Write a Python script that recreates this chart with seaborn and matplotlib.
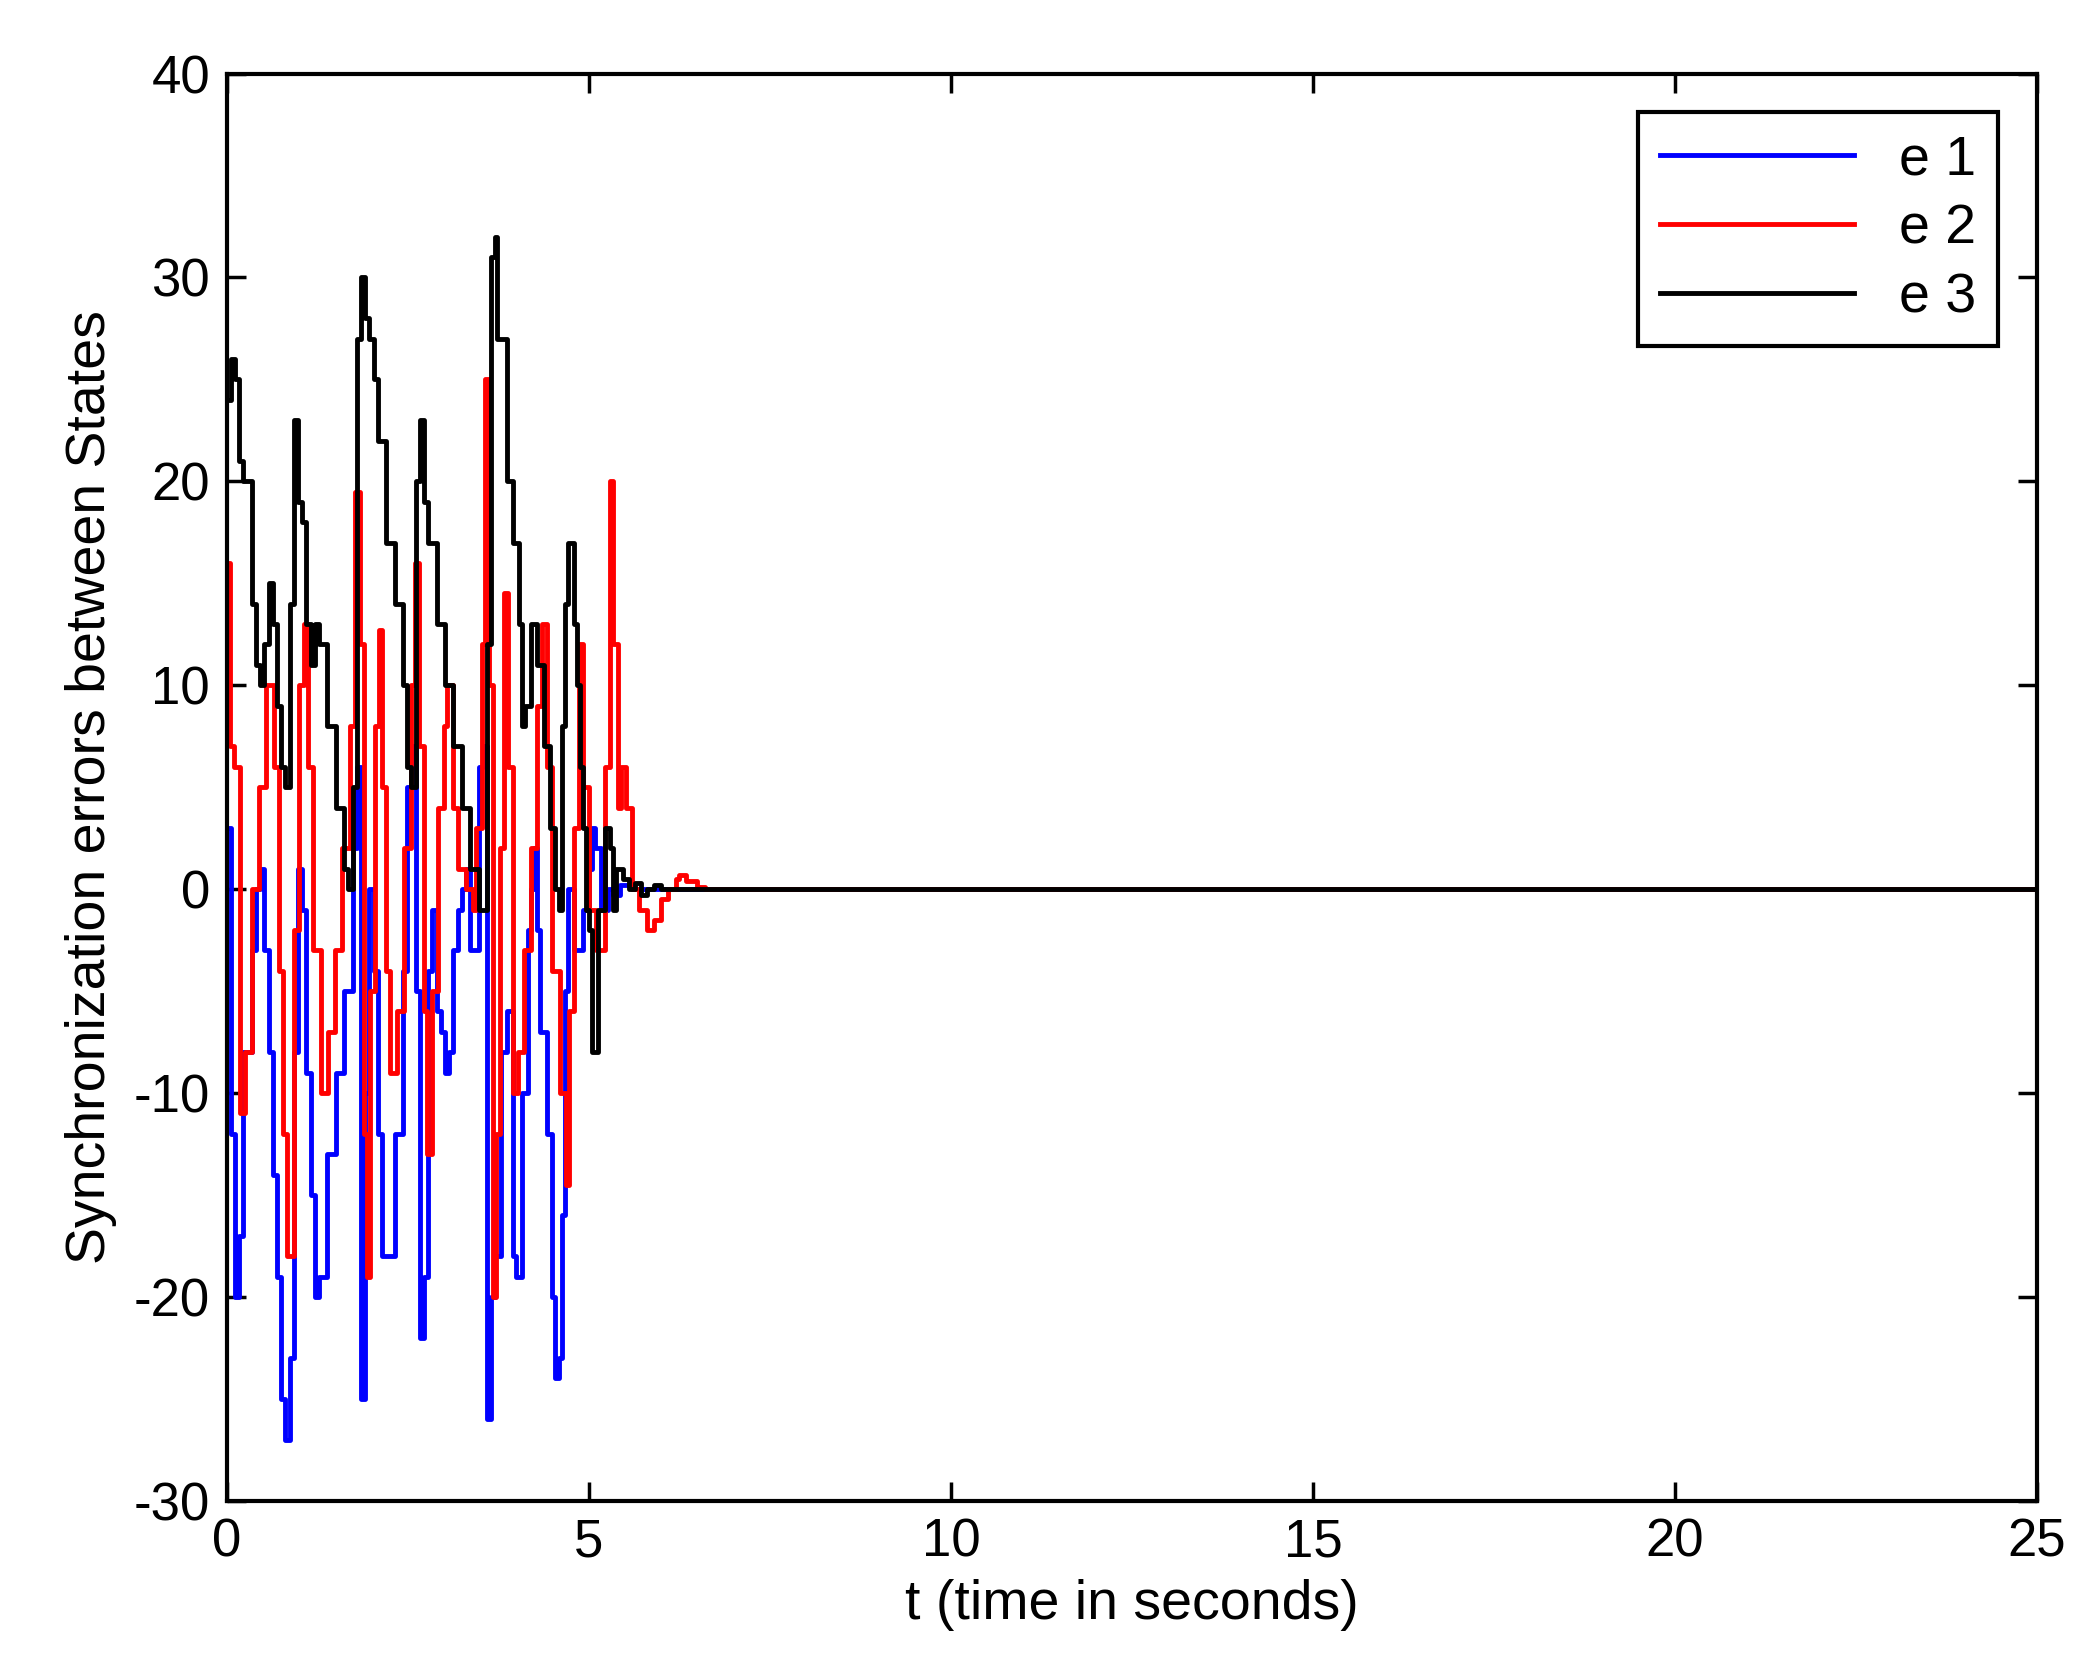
import matplotlib
matplotlib.use("Agg")
import matplotlib.pyplot as plt
import seaborn as sns
import pandas as pd

t_e1 = [0, .06, .12, .17, .23, .35, .41, .46, .52, .58, .64, .70, .75, .81, .87, .93, .99, 1.04, 1.10, 1.16, 1.22, 1.28, 1.39, 1.51, 1.62, 1.74, 1.80, 1.86, 1.91, 1.97, 2.03, 2.09, 2.15, 2.20, 2.32, 2.44, 2.49, 2.55, 2.61, 2.67, 2.73, 2.78, 2.84, 2.90, 2.96, 3.02, 3.07, 3.13, 3.19, 3.25, 3.31, 3.36, 3.48, 3.54, 3.60, 3.65, 3.70, 3.79, 3.87, 3.95, 4.0, 4.08, 4.16, 4.21, 4.25, 4.29, 4.33, 4.42, 4.50, 4.54, 4.59, 4.63, 4.67, 4.71, 4.75, 4.80, 4.84, 4.92, 5.0, 5.05, 5.09, 5.17, 5.26, 5.34, 5.43, 5.6, 25]
e1 = [3, -12, -20, -17, -8, -3, 0, 1, -3, -8, -14, -19, -25, -27, -23, -8, 1, -1, -9, -15, -20, -19, -13, -9, -5, 2, 6, -25, -10, 0, -4, -12, -18, -18, -12, -4, 5, 7, -5, -22, -19, -4, -1, -6, -7, -9, -8, -3, -1, 0, 1, -3, 6, 7, -26, -20, -18, -8, -6, -18, -19, -10, -2, 0, 2, -2, -7, -12, -20, -24, -23, -16, -5, 0, 0, -3, -3, -1, 1, 3, 2, -1, 0, -0.3, 0.2, 0, 0]

t_e2 = [0, .05, .1, .18, .25, .35, .45, .55, .65, .72, .78, .83, .88, .93, 1.0, 1.07, 1.12, 1.2, 1.3, 1.4, 1.5, 1.6, 1.7, 1.78, 1.84, 1.9, 1.94, 1.98, 2.05, 2.1, 2.15, 2.2, 2.25, 2.35, 2.45, 2.55, 2.6, 2.66, 2.72, 2.77, 2.83, 2.92, 3.0, 3.05, 3.12, 3.2, 3.3, 3.4, 3.45, 3.52, 3.57, 3.62, 3.68, 3.72, 3.78, 3.83, 3.88, 3.95, 4.02, 4.1, 4.2, 4.28, 4.35, 4.42, 4.5, 4.6, 4.68, 4.73, 4.8, 4.86, 4.92, 5.0, 5.1, 5.18, 5.22, 5.29, 5.34, 5.4, 5.45, 5.52, 5.6, 5.7, 5.8, 5.9, 6.0, 6.1, 6.2, 6.25, 6.35, 6.5, 6.6, 25]
e2 = [16, 7, 6, -11, -8, 0, 5, 10, 6, -4, -12, -18, -18, -2, 10, 13, 6, -3, -10, -7, -3, 2, 8, 19.5, 12, -12, -19, -5, 8, 12.7, 5, -4, -9, -6, 2, 10, 16, 7, -6, -13, -5, 4, 8, 10, 4, 1, 0, -1, 3, 12, 25, 10, -20, -12, 2, 14.5, 6, -10, -8, -3, 2, 9, 13, 6, -4, -10, -14.5, -6, 3, 12, 5, -1, -3, -3, 6, 20, 12, 4, 6, 4, 0, -1, -2, -1.5, -0.5, 0, 0.5, 0.7, 0.4, 0.1, 0, 0]

t_e3 = [0, .06, .12, .17, .23, .35, .41, .46, .52, .58, .64, .70, .75, .81, .87, .93, .99, 1.04, 1.10, 1.16, 1.22, 1.28, 1.39, 1.51, 1.62, 1.68, 1.74, 1.80, 1.86, 1.91, 1.97, 2.03, 2.09, 2.20, 2.32, 2.44, 2.49, 2.55, 2.61, 2.67, 2.73, 2.78, 2.90, 2.96, 3.02, 3.13, 3.25, 3.36, 3.48, 3.54, 3.60, 3.65, 3.70, 3.74, 3.79, 3.87, 3.95, 4.04, 4.08, 4.12, 4.21, 4.29, 4.38, 4.46, 4.54, 4.59, 4.63, 4.67, 4.71, 4.80, 4.84, 4.88, 4.92, 4.96, 5.0, 5.05, 5.09, 5.13, 5.22, 5.26, 5.30, 5.34, 5.38, 5.47, 5.55, 5.64, 5.72, 5.8, 5.9, 6.0, 25]
e3 = [24, 26, 25, 21, 20, 14, 11, 10, 12, 15, 13, 9, 6, 5, 14, 23, 19, 18, 13, 11, 13, 12, 8, 4, 1, 0, 5, 27, 30, 28, 27, 25, 22, 17, 14, 10, 6, 5, 20, 23, 19, 17, 13, 13, 10, 7, 4, 1, -1, -1, 12, 31, 32, 27, 27, 20, 17, 13, 8, 9, 13, 11, 7, 3, 0, -1, 8, 14, 17, 13, 10, 6, 3, -1, -2, -8, -8, -1, 3, 3, 2, -1, 1, 0.5, 0, 0.3, -0.3, 0, 0.2, 0, 0]

x_ticks = [0, 5, 10, 15, 20, 25]
y_ticks = [-30, -20, -10, 0, 10, 20, 30, 40]

plt.rcParams["font.family"] = "Liberation Sans"
plt.rcParams["axes.unicode_minus"] = False
fig = plt.figure(figsize=(20.98, 16.72), dpi=100)
ax = fig.add_axes([0.108, 0.1024, 0.863, 0.8536])

for tt, vv, c, lab in [(t_e1, e1, "#0000ff", "e 1"), (t_e2, e2, "#ff0000", "e 2"), (t_e3, e3, "#000000", "e 3")]:
    df = pd.DataFrame({"t": tt, "v": vv})
    sns.lineplot(data=df, x="t", y="v", ax=ax, color=c, lw=3.5, label=lab, estimator=None, sort=False, drawstyle="steps-post")

ax.set_xlim(0, 25)
ax.set_ylim(-30, 40)
ax.set_xticks(x_ticks)
ax.set_yticks(y_ticks)
ax.tick_params(direction="in", top=True, right=True, length=14, width=2.5, labelsize=38, pad=12)
for s in ax.spines.values():
    s.set_linewidth(3)
ax.set_xlabel("t (time in seconds)", fontsize=40, labelpad=8)
ax.set_ylabel("Synchronization errors between States", fontsize=40, labelpad=12)
leg = ax.legend(loc="upper right", fontsize=40, frameon=True, fancybox=False, edgecolor="black",
                framealpha=1, handlelength=3.5, borderaxespad=0.7, labelspacing=0.3)
leg.get_frame().set_linewidth(3)
fig.savefig("out.png", dpi=100)
